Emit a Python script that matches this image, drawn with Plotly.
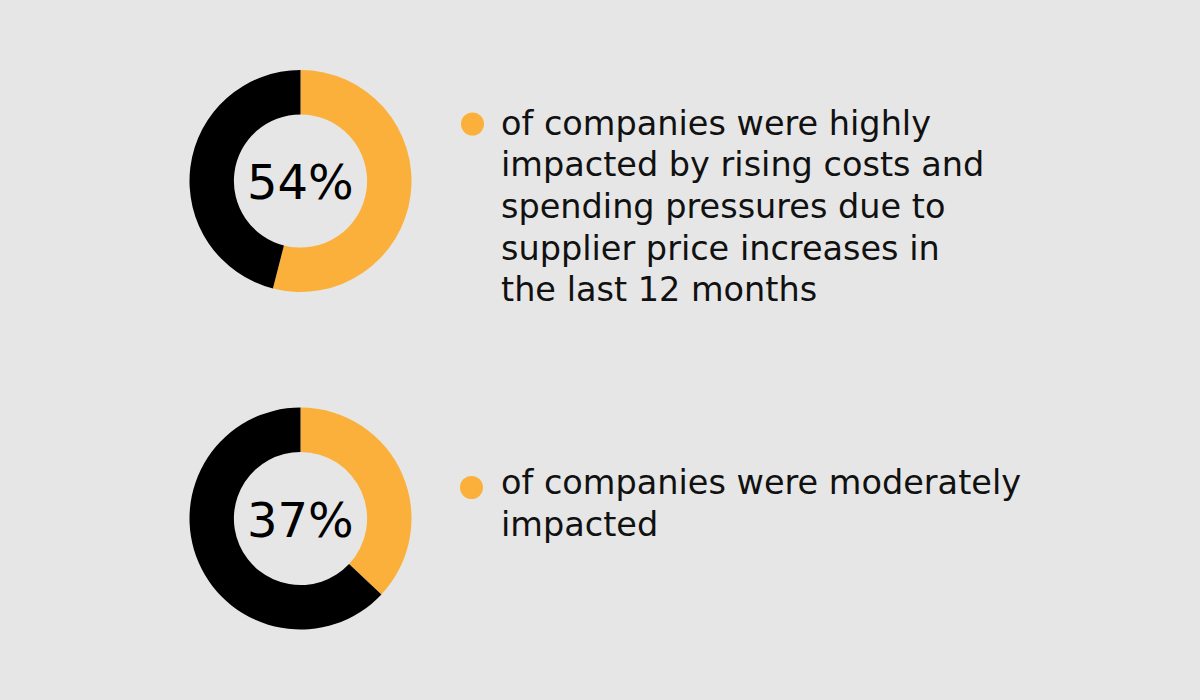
import plotly.graph_objects as go

W, H = 1200, 700
BG = "#e6e6e6"
ORANGE = "#fbb03b"
BLACK = "#000000"

# Data
labels = ["Impacted", "Other"]
highly_values = [54, 46]
moderately_values = [37, 63]
pct_labels = ["54%", "37%"]
text_top = ["of companies were highly",
            "impacted by rising costs and",
            "spending pressures due to",
            "supplier price increases in",
            "the last 12 months"]
text_bottom = ["of companies were moderately",
               "impacted"]

FONT = "DejaVu Sans"

def px_x(x):
    return x / W

def px_y(y):
    return 1 - y / H

R = 111
centers = [(300.5, 181), (300.5, 518.5)]

fig = go.Figure()
for vals, (cx, cy) in zip([highly_values, moderately_values], centers):
    fig.add_trace(go.Pie(
        labels=labels, values=vals, hole=0.6, sort=False, direction="clockwise",
        rotation=0, marker=dict(colors=[ORANGE, BLACK], line=dict(width=0)),
        textinfo="none", hoverinfo="skip", showlegend=False,
        domain=dict(x=[px_x(cx - R), px_x(cx + R)], y=[px_y(cy + R), px_y(cy - R)]),
    ))

annotations = []
for lab, (cx, cy) in zip(pct_labels, centers):
    annotations.append(dict(
        x=px_x(cx), y=px_y(cy + 1), xref="paper", yref="paper", text=lab,
        showarrow=False, xanchor="center", yanchor="middle",
        font=dict(family=FONT, size=48, color="#000000")))

LINE = 41.7
FS = 33.5
def add_lines(lines, first_baseline):
    for i, t in enumerate(lines):
        b = first_baseline + i * LINE
        annotations.append(dict(
            x=px_x(499), y=px_y(b - 10), xref="paper", yref="paper", text=t,
            showarrow=False, xanchor="left", yanchor="middle",
            font=dict(family=FONT, size=FS, color="#111111")))

add_lines(text_top, 133)
add_lines(text_bottom, 493)

shapes = []
for (bx, by) in [(472.5, 124), (471.5, 487.5)]:
    shapes.append(dict(type="circle", xref="paper", yref="paper",
                       x0=px_x(bx - 11.5), x1=px_x(bx + 11.5),
                       y0=px_y(by + 11.5), y1=px_y(by - 11.5),
                       fillcolor=ORANGE, line=dict(width=0)))

fig.update_layout(
    width=W, height=H, margin=dict(l=0, r=0, t=0, b=0),
    paper_bgcolor=BG, plot_bgcolor=BG,
    annotations=annotations, shapes=shapes,
)

fig.write_html("out.html")
